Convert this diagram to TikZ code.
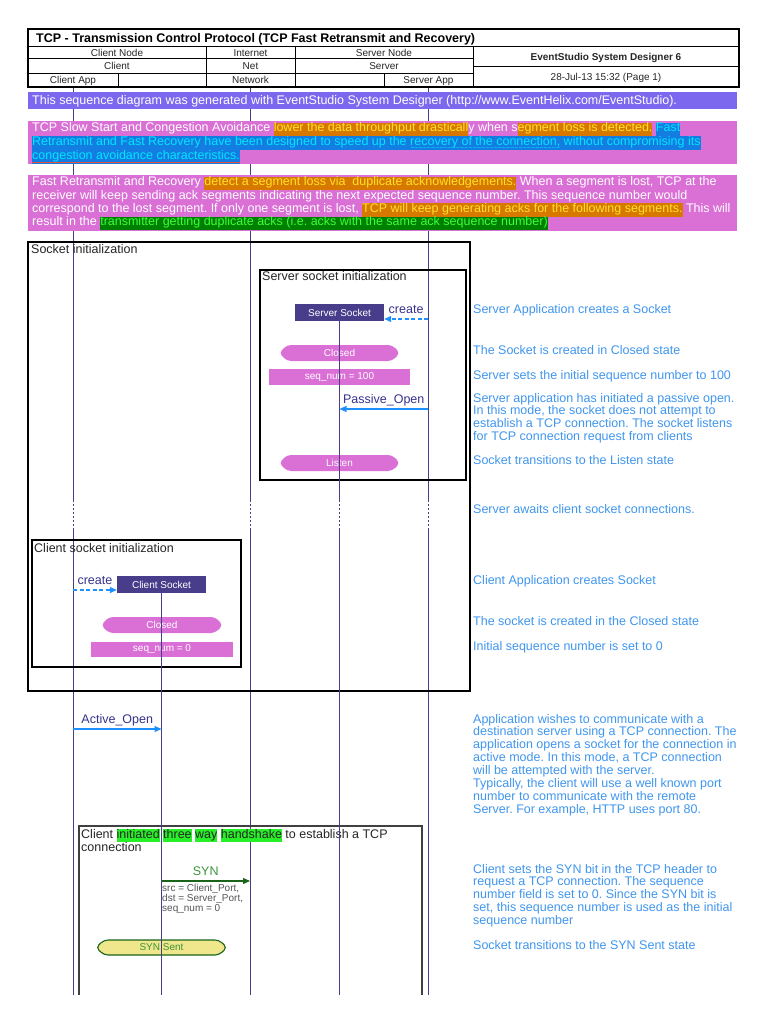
\documentclass[tikz,border=0pt]{standalone}
\usepackage{fontspec}
\setmainfont{Liberation Sans}
\usetikzlibrary{arrows.meta}
\frenchspacing
\definecolor{lifeC}{RGB}{72,61,139}
\definecolor{msgLbl}{RGB}{55,50,140}
\definecolor{arrowC}{RGB}{30,144,255}
\definecolor{noteC}{RGB}{64,150,238}
\definecolor{orchidC}{RGB}{218,112,214}
\definecolor{slateC}{RGB}{123,104,238}
\definecolor{hlOrange}{RGB}{215,120,0}
\definecolor{hlYellow}{RGB}{255,225,40}
\definecolor{hlBlue}{RGB}{20,125,225}
\definecolor{hlCyan}{RGB}{0,230,255}
\definecolor{hlGreenBg}{RGB}{0,128,0}
\definecolor{hlGreenFg}{RGB}{60,255,60}
\definecolor{hlLime}{RGB}{40,240,40}
\definecolor{synGreen}{RGB}{60,150,60}
\definecolor{synDark}{RGB}{25,100,25}
\definecolor{khakiC}{RGB}{240,230,140}
\definecolor{paramC}{RGB}{85,85,85}
\definecolor{ulRed}{RGB}{230,80,60}
\newcommand\bodyfont{\fontsize{12.5}{13.3}\selectfont}
\newcommand\notefont{\fontsize{12.5}{12.7}\selectfont}
\newcommand\hdrfont{\fontsize{10}{12}\selectfont}
\newcommand\smallfont{\fontsize{10}{10}\selectfont}
\newcommand\hl[3]{{\setlength{\fboxsep}{0pt}\colorbox{#1}{\textcolor{#2}{\strut #3}}}}
\newcommand\rows[1]{\begin{tabular}[t]{@{}l@{}}#1\end{tabular}}
\newcommand\redul[1]{{\setbox0\hbox{#1}\rlap{\textcolor{ulRed}{\rule[-3.8pt]{\wd0}{1pt}}}\box0}}
\newcommand\wavyul[1]{{\setbox0\hbox{#1}\rlap{\raisebox{-5pt}{\hbox to \wd0{\textcolor{hlCyan}{\fontsize{7}{7}\selectfont\xleaders\hbox{\char"007E}\hfill}}}}\box0}}
% #1 name, #2 cx, #3 cy, #4 w, #5 h, #6 path style, #7 node style, #8 text
\newcommand\statepill[8]{%
  \path[#6, rounded corners=4pt] ({#2-#4/2+8},{#3-#5/2}) -- ({#2+#4/2-8},{#3-#5/2}) -- ({#2+#4/2},{#3}) -- ({#2+#4/2-8},{#3+#5/2}) -- ({#2-#4/2+8},{#3+#5/2}) -- ({#2-#4/2},{#3}) -- cycle;
  \node[stlabel, #7] (#1) at (#2,#3) {#8};}
\begin{document}
\begin{tikzpicture}[x=1pt,y=-1pt,
  lifeline/.style={draw=lifeC, line width=0.9pt},
  lifedot/.style={draw=lifeC, line width=0.9pt, dash pattern=on 1.5pt off 2.5pt},
  hdr/.style={anchor=base, inner sep=0pt, font=\hdrfont, text=black!85},
  note/.style={anchor=base west, inner sep=0pt, font=\notefont, text=noteC},
  banner/.style={anchor=base west, inner sep=0pt, font=\bodyfont, text=white},
  framelbl/.style={anchor=base west, inner sep=0pt, font=\bodyfont, text=black!85},
  comp/.style={fill=lifeC, text=white, font=\smallfont, inner sep=0pt, minimum width=89pt, minimum height=17pt},
  stlabel/.style={inner sep=0pt, font=\smallfont, text=white},
  seqbox/.style={fill=orchidC, text=white, font=\smallfont, inner sep=0pt, minimum height=16pt},
  msg/.style={draw=arrowC, line width=1.1pt, -{Triangle[length=7pt,width=6pt]}},
  dmsg/.style={msg, dash pattern=on 4pt off 2.5pt},
  msglbl/.style={anchor=base, inner sep=0pt, font=\bodyfont, text=msgLbl, yshift=6pt},
]
\useasboundingbox (0,0) rectangle (768,1024);
\fill[white] (0,0) rectangle (768,1024);

% ---------- lifelines (application / network) ----------
\foreach \nm/\xx in {ca/73,nt/250,sa/428}{
  \coordinate (\nm0) at (\xx,87);
  \coordinate (\nm1) at (\xx,500);
  \coordinate (\nm2) at (\xx,528);
  \coordinate (\nm3) at (\xx,995);
  \draw[lifeline] (\nm0) -- (\nm1);
  \draw[lifedot] (\nm1) -- (\nm2);
  \draw[lifeline] (\nm2) -- (\nm3);
}

% ---------- header table ----------
\draw[line width=1.5pt] (28,29) rectangle (739,87);
\draw[line width=1pt] (28,47) -- (739,47);
\draw[line width=1pt] (28,59) -- (473,59);
\draw[line width=1pt] (28,73.5) -- (473,73.5);
\draw[line width=1pt] (473,47) -- (473,87);
\draw[line width=1pt] (473,67) -- (739,67);
\draw[line width=1pt] (206,47) -- (206,87);
\draw[line width=1pt] (295,47) -- (295,87);
\draw[line width=1pt] (118,73.5) -- (118,87);
\draw[line width=1pt] (384,73.5) -- (384,87);
\node[anchor=base west, inner sep=0pt, font=\bodyfont\bfseries] (hTitle) at (36,42.5) {TCP - Transmission Control Protocol (TCP Fast Retransmit and Recovery)};
\node[hdr] (hCN) at (117,56.6) {Client Node};
\node[hdr] (hIN) at (250.5,56.6) {Internet};
\node[hdr] (hSN) at (384,56.6) {Server Node};
\node[hdr] (hC) at (117,69.9) {Client};
\node[hdr] (hN) at (250.5,69.9) {Net};
\node[hdr] (hS) at (384,69.9) {Server};
\node[hdr] (hCA) at (73,83.8) {Client App};
\node[hdr] (hNW) at (250.5,83.8) {Network};
\node[hdr] (hSA) at (428.5,83.8) {Server App};
\node[hdr, font=\hdrfont\bfseries] (hES) at (606,60.6) {EventStudio System Designer 6};
\node[hdr] (hDT) at (606,80.6) {28-Jul-13 15:32 (Page 1)};

% ---------- banners ----------
\fill[slateC] (28,92) rectangle (737,109.5);
\node[banner] (bnGen) at (32,105) {This sequence diagram was generated with EventStudio System Designer (http://www.EventHelix.com/EventStudio).};
\fill[orchidC] (28,121) rectangle (737,164.5);
\node[banner] (bnSlow) at (32,132) {\rows{TCP Slow Start and Congestion Avoidance \hl{hlOrange}{hlYellow}{lower the data throughput drasticall}y when s\hl{hlOrange}{hlYellow}{egment loss is detected.} \hl{hlBlue}{hlCyan}{Fast}\\
\hl{hlBlue}{hlCyan}{Retransmit and Fast Recovery have been designed to speed up the \wavyul{recovery of the connection,} without compromising its}\\
\hl{hlBlue}{hlCyan}{\redul{congestion avoidance characteristics.}}}};
\fill[orchidC] (28,175) rectangle (737,231);
\node[banner] (bnFast) at (32,186) {\rows{Fast Retransmit and Recovery \hl{hlOrange}{hlYellow}{detect a segment loss via~ duplicate acknowledgements.} When a segment is lost, TCP at the\\
receiver will keep sending ack segments indicating the next expected sequence number. This sequence number would\\
correspond to the lost segment. If only one segment is lost, \hl{hlOrange}{hlYellow}{TCP will keep generating acks for the following segments.} This will\\
result in the \hl{hlGreenBg}{hlGreenFg}{transmitter getting duplicate acks (i.e. acks with the same ack sequence number)}}};

% ---------- frames ----------
\draw[line width=1.8pt] (28,242) rectangle (470,691);
\node[framelbl] (fSock) at (31,253) {Socket initialization};
\draw[line width=1.1pt] (260,270) rectangle (466,480);
\node[framelbl] (fSrv) at (262,280) {Server socket initialization};
\draw[line width=1.1pt] (32,540) rectangle (241,667);
\node[framelbl] (fCli) at (34,552) {Client socket initialization};
\draw[line width=1.3pt, draw=black!75] (79,995) -- (79,826) -- (422,826) -- (422,995);
\node[framelbl] (fHs) at (81,838) {\rows{Client \hl{hlLime}{black!85}{initiated} \hl{hlLime}{black!85}{three} \hl{hlLime}{black!85}{way} \hl{hlLime}{black!85}{handshake} to establish a TCP\\connection}};

% ---------- sockets and states ----------
\node[comp] (ssock) at (339.5,312.5) {Server Socket};
\statepill{stClosedS}{339.5}{353}{121}{16}{fill=orchidC}{}{Closed}
\node[seqbox, minimum width=141pt] (seqS) at (339.5,377) {seq\_num = 100};
\statepill{stListen}{339.5}{463}{121}{16}{fill=orchidC}{}{Listen}

\node[comp] (csock) at (161.5,584.5) {Client Socket};
\statepill{stClosedC}{162}{625}{122}{16}{fill=orchidC}{}{Closed}
\node[seqbox, minimum width=142pt, minimum height=15.5pt] (seqC) at (162,649.5) {seq\_num = 0};
\statepill{stSynSent}{161.5}{947.5}{131}{15}{fill=khakiC, draw=synDark, line width=1.1pt}{text=synGreen}{SYN Sent}

% ---------- socket lifelines ----------
\coordinate (sv1) at (339.5,500);
\coordinate (sv2) at (339.5,528);
\coordinate (sv3) at (339.5,995);
\draw[lifeline] (ssock.south) -- (sv1);
\draw[lifedot] (sv1) -- (sv2);
\draw[lifeline] (sv2) -- (sv3);
\coordinate (cl3) at (161.5,995);
\draw[lifeline] (csock.south) -- (cl3);

% ---------- messages ----------
\coordinate (scA) at (428,319);
\draw[dmsg] (scA) -- node[msglbl, pos=0.5] (lblCreateS) {create} ([yshift=-6.5pt]ssock.east);
\coordinate (poA) at (428,409);
\coordinate (poB) at (339.5,409);
\draw[msg] (poA) -- node[msglbl, pos=0.5] (lblPassive) {Passive\_Open} (poB);
\coordinate (ccA) at (73,590);
\draw[dmsg] (ccA) -- node[msglbl, pos=0.5] (lblCreateC) {create} ([yshift=-5.5pt]csock.west);
\coordinate (aoA) at (73,729);
\coordinate (aoB) at (161.5,729);
\draw[msg] (aoA) -- node[msglbl, pos=0.5] (lblActive) {Active\_Open} (aoB);
\coordinate (synA) at (161.5,881);
\coordinate (synB) at (250,881);
\draw[msg, draw=synDark] (synA) -- node[msglbl, pos=0.5, text=synGreen] (lblSyn) {SYN} (synB);
\node[anchor=base west, inner sep=0pt, font=\smallfont, text=paramC] (synPar) at (162,891) {\rows{src = Client\_Port,\\dst = Server\_Port,\\seq\_num = 0}};

% ---------- notes ----------
\node[note] (n1) at (473,313) {Server Application creates a Socket};
\node[note] (n2) at (473,354) {The Socket is created in Closed state};
\node[note] (n3) at (473,379) {Server sets the initial sequence number to 100};
\node[note] (n4) at (473,402) {\rows{Server application has initiated a passive open.\\In this mode, the socket does not attempt to\\establish a TCP connection. The socket listens\\for TCP connection request from clients}};
\node[note] (n5) at (473,464) {Socket transitions to the Listen state};
\node[note] (n6) at (473,513) {Server awaits client socket connections.};
\node[note] (n7) at (473,584) {Client Application creates Socket};
\node[note] (n8) at (473,625) {The socket is created in the Closed state};
\node[note] (n9) at (473,650) {Initial sequence number is set to 0};
\node[note] (n10) at (473,723) {\rows{Application wishes to communicate with a\\destination server using a TCP connection. The\\application opens a socket for the connection in\\active mode. In this mode, a TCP connection\\will be attempted with the server.\\Typically, the client will use a well known port\\number to communicate with the remote\\Server. For example, HTTP uses port 80.}};
\node[note] (n11) at (473,873) {\rows{Client sets the SYN bit in the TCP header to\\request a TCP connection. The sequence\\number field is set to 0. Since the SYN bit is\\set, this sequence number is used as the initial\\sequence number}};
\node[note] (n12) at (473,949) {Socket transitions to the SYN Sent state};
\end{tikzpicture}
\end{document}
